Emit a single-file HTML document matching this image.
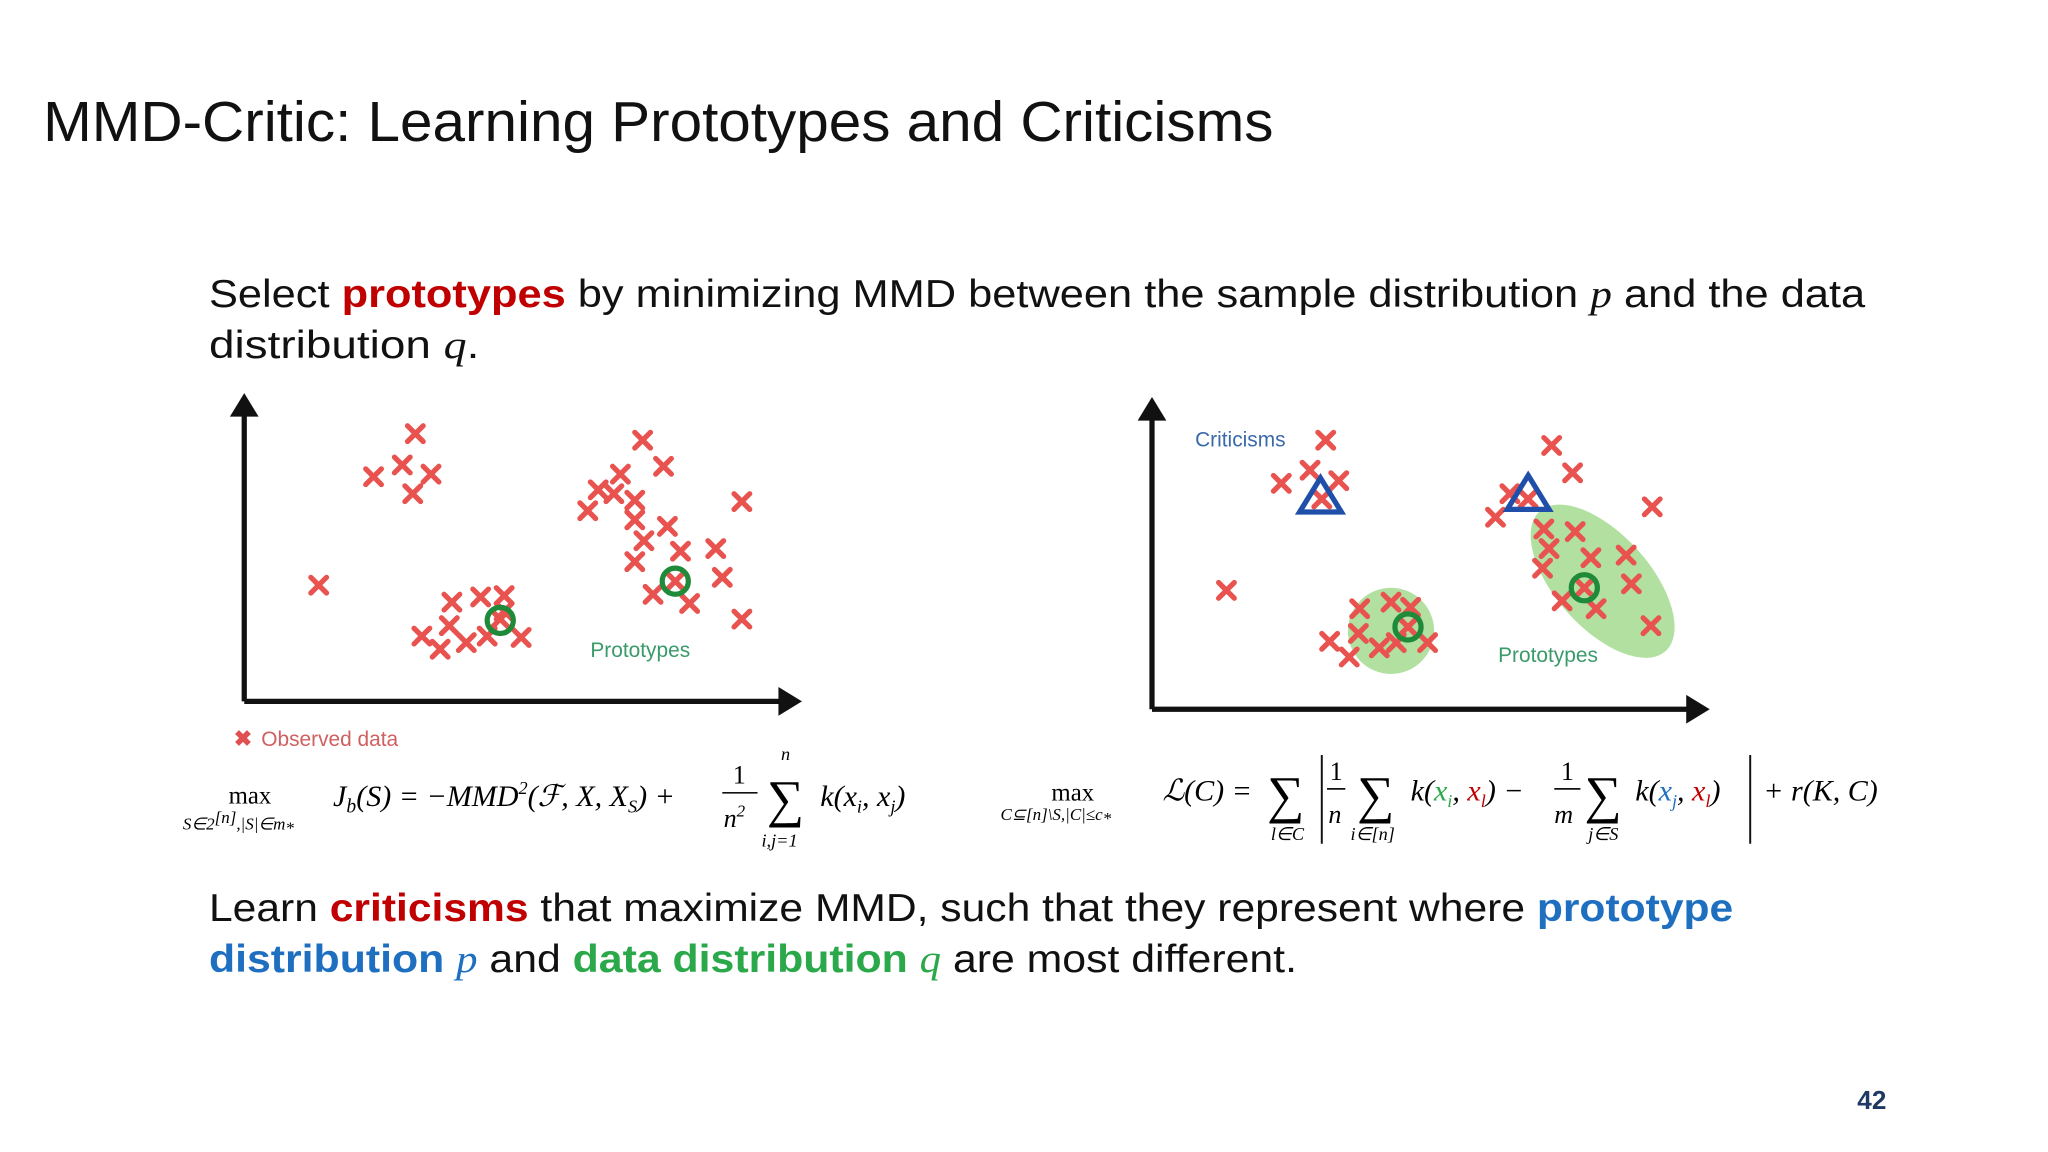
<!DOCTYPE html>
<html><head><meta charset="utf-8"><style>
html,body{margin:0;padding:0;background:#fff;}
svg{display:block;}
.s{font-family:"Liberation Sans",sans-serif;}
.m{font-family:"Liberation Serif",serif;font-style:italic;}
.n{font-family:"Liberation Serif",serif;font-style:normal;}
</style></head><body>
<svg id="root" width="2048" height="1152" viewBox="0 0 1568 882" xmlns="http://www.w3.org/2000/svg">
<text class="s" x="33" y="108" font-size="43" fill="#111" textLength="942" lengthAdjust="spacingAndGlyphs">MMD-Critic: Learning Prototypes and Criticisms</text>
<text class="s" x="160" y="235" font-size="30" fill="#111" textLength="1268" lengthAdjust="spacingAndGlyphs">Select <tspan fill="#c00000" font-weight="bold">prototypes</tspan> by minimizing MMD between the sample distribution <tspan font-family="Liberation Serif" font-style="italic">p</tspan> and the data</text>
<text class="s" x="160" y="274" font-size="30" fill="#111" textLength="207" lengthAdjust="spacingAndGlyphs">distribution <tspan font-family="Liberation Serif" font-style="italic">q</tspan>.</text>

<g id="left"></g>
<g id="right"></g>

<text class="s" x="452" y="503" font-size="16" fill="#3a9a6a">Prototypes</text>
<text class="s" x="179" y="571" font-size="17" fill="#e05050" font-weight="bold">✖</text>
<text class="s" x="200" y="571" font-size="16" fill="#d06060">Observed data</text>
<text class="s" x="915" y="342" font-size="16" fill="#3a6aaa">Criticisms</text>
<text class="s" x="1147" y="507" font-size="16" fill="#3a9a6a">Prototypes</text>

<g>
<text class="n" x="175" y="615" font-size="19">max</text>
<text class="m" x="140" y="635" font-size="13">S∈2<tspan dy="-5">[n]</tspan><tspan dy="5">,|S|∈m</tspan><tspan dy="3">*</tspan></text>
<text class="m" x="255" y="617" font-size="23">J<tspan font-size="15" dy="5">b</tspan><tspan dy="-5">(S) = −MMD</tspan><tspan font-size="14" dy="-9">2</tspan><tspan dy="9">(ℱ, X, X</tspan><tspan font-size="14" dy="5">S</tspan><tspan dy="-5">) +</tspan></text>
<text class="n" x="561" y="600" font-size="20">1</text>
<line x1="553" y1="607" x2="580" y2="607" stroke="#111" stroke-width="1.3"/>
<text class="m" x="554" y="633" font-size="20">n<tspan font-size="13" dy="-8">2</tspan></text>
<text class="m" x="598" y="582" font-size="14">n</text>
<text class="n" x="587" y="625" font-size="40">∑</text>
<text class="m" x="583" y="648" font-size="14">i,j=1</text>
<text class="m" x="628" y="617" font-size="23">k(x<tspan font-size="14" dy="5">i</tspan><tspan dy="-5">, x</tspan><tspan font-size="14" dy="5">j</tspan><tspan dy="-5">)</tspan></text>
</g>

<g>
<text class="n" x="805" y="613" font-size="19">max</text>
<text class="m" x="766" y="628" font-size="13">C⊆[n]\S,|C|≤c<tspan dy="3">*</tspan></text>
<text class="m" x="890" y="613" font-size="23">ℒ(C) =</text>
<text class="n" x="970" y="622" font-size="40">∑</text>
<text class="m" x="973" y="643" font-size="14">l∈C</text>
<line x1="1012" y1="578" x2="1012" y2="646" stroke="#111" stroke-width="1.5"/>
<text class="n" x="1018" y="597" font-size="20">1</text>
<line x1="1016" y1="604" x2="1030" y2="604" stroke="#111" stroke-width="1.3"/>
<text class="m" x="1017" y="630" font-size="20">n</text>
<text class="n" x="1039" y="622" font-size="40">∑</text>
<text class="m" x="1034" y="643" font-size="14">i∈[n]</text>
<text class="m" x="1080" y="613" font-size="23">k(<tspan fill="#2aa84a">x</tspan><tspan fill="#2aa84a" font-size="14" dy="5">i</tspan><tspan dy="-5">, </tspan><tspan fill="#c00000">x</tspan><tspan fill="#c00000" font-size="14" dy="5">l</tspan><tspan dy="-5">) −</tspan></text>
<text class="n" x="1195" y="597" font-size="20">1</text>
<line x1="1190" y1="604" x2="1210" y2="604" stroke="#111" stroke-width="1.3"/>
<text class="m" x="1190" y="630" font-size="20">m</text>
<text class="n" x="1213" y="622" font-size="40">∑</text>
<text class="m" x="1216" y="643" font-size="14">j∈S</text>
<text class="m" x="1252" y="613" font-size="23">k(<tspan fill="#1f6fc0">x</tspan><tspan fill="#1f6fc0" font-size="14" dy="5">j</tspan><tspan dy="-5">, </tspan><tspan fill="#c00000">x</tspan><tspan fill="#c00000" font-size="14" dy="5">l</tspan><tspan dy="-5">)</tspan></text>
<line x1="1340" y1="578" x2="1340" y2="646" stroke="#111" stroke-width="1.5"/>
<text class="m" x="1350" y="613" font-size="23">+ r(K, C)</text>
</g>

<text class="s" x="160" y="705" font-size="30" fill="#111" textLength="1167" lengthAdjust="spacingAndGlyphs">Learn <tspan fill="#c00000" font-weight="bold">criticisms</tspan> that maximize MMD, such that they represent where <tspan fill="#1f6fc0" font-weight="bold">prototype</tspan></text>
<text class="s" x="160" y="744" font-size="30" fill="#111" textLength="833" lengthAdjust="spacingAndGlyphs"><tspan fill="#1f6fc0" font-weight="bold">distribution </tspan><tspan fill="#1f6fc0" font-family="Liberation Serif" font-style="italic">p</tspan> and <tspan fill="#2aa84a" font-weight="bold">data distribution </tspan><tspan fill="#2aa84a" font-family="Liberation Serif" font-style="italic">q</tspan> are most different.</text>
<text class="s" x="1422" y="849" font-size="20" font-weight="bold" fill="#1f3864">42</text>
</svg>
<script>
const leftX=[318,286,308,330,316,244,492,508,475,458,470,486,450,486,511,493,568,548,486,521,553,500,528,517,568,346,368,386,344,383,323,337,357,373,399,386];
const leftY=[332,365,356,363,378,448,337,357,363,375,378,383,391,398,403,414,384,420,430,422,442,455,462,445,474,461,457,456,479,474,487,497,492,487,488,468];
const leftProtoX=[383,517];
const leftProtoY=[475,445];
const rightX=[1015,981,1003,1025,1012,939,1188,1204,1265,1156,1145,1170,1182,1206,1186,1218,1245,1181,1249,1213,1196,1222,1264,1041,1065,1080,1040,1078,1018,1033,1056,1069,1093];
const rightY=[337,370,360,368,382,452,341,362,388,378,396,382,405,407,420,427,425,435,447,450,460,466,479,466,461,465,485,480,491,503,496,492,492];
const rightProtoX=[1078,1213];
const rightProtoY=[480,450];
const critX=[1011,1170];
const critY=[380,378];
const NS='http://www.w3.org/2000/svg';
function mk(p,t,a){const e=document.createElementNS(NS,t);for(const k in a)e.setAttribute(k,a[k]);p.appendChild(e);return e;}
function axes(g,x0,y0,yTop,xRight){
  mk(g,'path',{d:`M${x0} ${y0} L${x0} ${yTop+8} M${x0} ${y0} L${xRight-8} ${y0}`,stroke:'#111','stroke-width':4,fill:'none'});
  mk(g,'path',{d:`M${x0-11} ${yTop+14} L${x0} ${yTop-4} L${x0+11} ${yTop+14} Z`,fill:'#111'});
  mk(g,'path',{d:`M${xRight-14} ${y0-11} L${xRight+4} ${y0} L${xRight-14} ${y0+11} Z`,fill:'#111'});
}
function cross(g,x,y){
  const c=mk(g,'path',{d:`M${x-6} ${y-6} L${x+6} ${y+6} M${x+6} ${y-6} L${x-6} ${y+6}`,stroke:'#e8524f','stroke-width':4,'stroke-linecap':'round'});
  
  
}
function proto(g,x,y){
  const c=mk(g,'circle',{cx:x,cy:y,r:10,fill:'none',stroke:'#1f8a3a','stroke-width':4});
  
  
}
const L=document.getElementById('left'),R=document.getElementById('right');
axes(L,187,537,305,610);
axes(R,882,543,308,1305);
const e1=mk(R,'ellipse',{cx:1065,cy:483,rx:33,ry:33,fill:'#9fd88a',opacity:0.8});


const e2=mk(R,'ellipse',{cx:1227,cy:445,rx:72,ry:36,fill:'#9fd88a',opacity:0.8,transform:'rotate(48 1227 445)'});


leftX.forEach((x,i)=>cross(L,x,leftY[i]));
rightX.forEach((x,i)=>cross(R,x,rightY[i]));
leftProtoX.forEach((x,i)=>proto(L,x,leftProtoY[i]));
rightProtoX.forEach((x,i)=>proto(R,x,rightProtoY[i]));
critX.forEach((x,i)=>{const y=critY[i];
  const t=mk(R,'path',{d:`M${x} ${y-14} L${x+16} ${y+12} L${x-16} ${y+12} Z`,fill:'none',stroke:'#1f4fa8','stroke-width':4,'stroke-linejoin':'miter'});
  
  
});
</script>
</body></html>
